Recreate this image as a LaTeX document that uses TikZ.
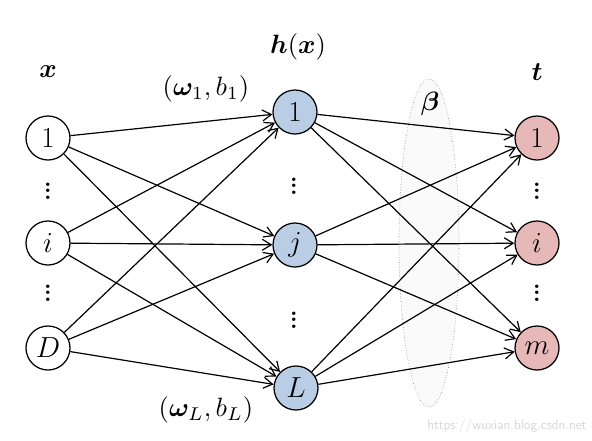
\RequirePackage{fix-cm}
\documentclass[tikz,border=0pt]{standalone}
\usepackage{amsmath,bm}
\usetikzlibrary{arrows.meta}
\definecolor{hidfill}{HTML}{B9CDE5}
\definecolor{outfill}{HTML}{E6B9B8}
\newcommand{\myvdots}{\vbox{\baselineskip=6.6pt\lineskiplimit=-20pt\lineskip=0pt\hbox{.}\hbox{.}\hbox{.}}}
\newcommand{\biglab}[1]{\scalebox{2.65}{#1}}
\tikzset{
  neuron/.style={circle,draw,line width=1.25pt,minimum size=44pt,inner sep=0pt,font=\fontsize{29}{32}\selectfont},
  conn/.style={line width=1.2pt,-{Straight Barb[length=9pt,width=11pt,line width=1.2pt]}},
  lab/.style={inner sep=0pt},
  dotsnode/.style={font=\fontsize{24}{26}\selectfont\bfseries,inner sep=0pt}
}
\begin{document}
\begin{tikzpicture}[x=1pt,y=-1pt]
\useasboundingbox (0,0) rectangle (592,440);
% ellipse for beta
\draw[gray,dotted,line width=0.6pt,fill=black!2] (429,243) ellipse [x radius=30,y radius=164];
% input layer
\node[neuron,fill=white] (i1) at (48,138) {$1$};
\node[neuron,fill=white] (i2) at (48,243) {$i$};
\node[neuron,fill=white] (i3) at (48,348) {$D$};
% hidden layer
\node[neuron,fill=hidfill] (h1) at (295,112) {$1$};
\node[neuron,fill=hidfill] (h2) at (295,245) {$j$};
\node[neuron,fill=hidfill] (h3) at (296,388) {$L$};
% output layer
\node[neuron,fill=outfill] (o1) at (537,138) {$1$};
\node[neuron,fill=outfill] (o2) at (537,243) {$i$};
\node[neuron,fill=outfill] (o3) at (537,348) {$m$};
% dots
\node[dotsnode] (d1) at (48,191) {\myvdots};
\node[dotsnode] (d2) at (48,293) {\myvdots};
\node[dotsnode] (d3) at (294,186) {\myvdots};
\node[dotsnode] (d4) at (294,320) {\myvdots};
\node[dotsnode] (d5) at (537,191) {\myvdots};
\node[dotsnode] (d6) at (537,293) {\myvdots};
% connections
\foreach \a in {i1,i2,i3}{
  \foreach \b in {h1,h2,h3}{
    \draw[conn] (\a) -- (\b);
  }
}
\foreach \a in {h1,h2,h3}{
  \foreach \b in {o1,o2,o3}{
    \draw[conn] (\a) -- (\b);
  }
}
% labels
\node[lab] (lx) at (48,72) {\biglab{$\bm{x}$}};
\node[lab] (lh) at (298,47) {\biglab{$\bm{h}(\bm{x})$}};
\node[lab] (lt) at (537,72) {\biglab{$\bm{t}$}};
\node[lab] (lb) at (430,104) {\biglab{$\bm{\beta}$}};
\node[lab] (lw1) at (206,89) {\biglab{$(\bm{\omega}_1,b_1)$}};
\node[lab] (lwL) at (206,410) {\biglab{$(\bm{\omega}_L,b_L)$}};
\node[font=\sffamily\fontsize{13.5}{15}\selectfont,text=black!16,anchor=east] (wm) at (590,426) {https://wuxian.blog.csdn.net};
\end{tikzpicture}
\end{document}
